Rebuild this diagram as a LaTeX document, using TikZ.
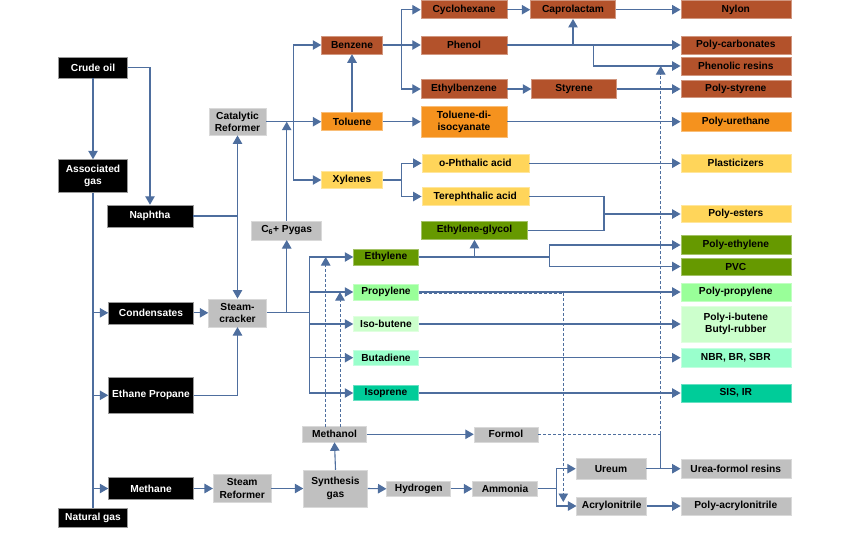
\documentclass[tikz,border=0pt]{standalone}
\usepackage{fontspec}
\setmainfont{Liberation Sans}
\usetikzlibrary{arrows.meta}
\definecolor{lineblue}{HTML}{4E6E9E}
\definecolor{grayc}{HTML}{C0C0C0}
\definecolor{brownc}{HTML}{B3522B}
\definecolor{orangec}{HTML}{F5921E}
\definecolor{yellowc}{HTML}{FFD55A}
\definecolor{dgreenc}{HTML}{669900}
\definecolor{lgreenc}{HTML}{99FF99}
\definecolor{vlgreenc}{HTML}{CCFFCC}
\definecolor{mintc}{HTML}{99FFCC}
\definecolor{tealc}{HTML}{00CC99}
\begin{document}
\begin{tikzpicture}[x=1pt,y=-1pt,
  box/.style={rectangle, inner sep=0pt, align=center, line width=0.5pt,
    font=\fontsize{10.2}{12.6}\selectfont\bfseries},
  wh/.style 2 args={minimum width=#1pt, minimum height=#2pt},
  blk/.style={box, fill=black, text=white, draw=black!40},
  gry/.style={box, fill=grayc, draw=grayc!60!white},
  brn/.style={box, fill=brownc, draw=brownc!60!white},
  org/.style={box, fill=orangec, draw=orangec!60!white},
  yel/.style={box, fill=yellowc, draw=yellowc!60!white},
  dgr/.style={box, fill=dgreenc, draw=dgreenc!60!white},
  lgr/.style={box, fill=lgreenc, draw=lgreenc!60!white},
  vlg/.style={box, fill=vlgreenc, draw=vlgreenc!60!white},
  mnt/.style={box, fill=mintc, draw=mintc!60!white},
  tea/.style={box, fill=tealc, draw=tealc!60!white},
  conn/.style={draw=lineblue, line width=1.1pt},
  arr/.style={conn, -{Triangle[length=8.5pt,width=9.5pt]}},
  dsh/.style={conn, line width=0.9pt, dash pattern=on 3pt off 2pt},
  darr/.style={dsh, -{Triangle[length=8.5pt,width=9.5pt]}}]
\useasboundingbox (0,0) rectangle (850,539);

% black sources
\node[blk, wh={69}{21}] (crude) at (93,67.7) {Crude oil};
\node[blk, wh={69}{33}] (assoc) at (93,176) {Associated\\gas};
\node[blk, wh={86}{22}] (naphtha) at (150,216) {Naphtha};
\node[blk, wh={85}{22}] (cond) at (151,312.8) {Condensates};
\node[blk, wh={85}{36}] (ethprop) at (151,395.3) {Ethane Propane};
\node[blk, wh={85}{22}] (methane) at (151,488.5) {Methane};
\node[blk, wh={69}{19}] (natgas) at (93,517.7) {Natural gas};

% gray
\node[gry, wh={57}{27}] (catref) at (237.5,121.7) {Catalytic\\Reformer};
\node[gry, wh={58}{28}] (steamc) at (237.5,312.8) {Steam-\\cracker};
\node[gry, wh={70}{19}] (pygas) at (286.7,230.3) {C\textsubscript{6}+ Pygas};
\node[gry, wh={64}{15.5}] (methanol) at (334.5,434.3) {Methanol};
\node[gry, wh={58}{28}] (steamref) at (242.2,488.5) {Steam\\Reformer};
\node[gry, wh={64}{37}] (syngas) at (335.5,488.5) {Synthesis\\gas};
\node[gry, wh={64}{15}] (hydrogen) at (418.7,488.8) {Hydrogen};
\node[gry, wh={64.6}{15}] (ammonia) at (505,488.8) {Ammonia};
\node[gry, wh={64}{15}] (formol) at (506,434.3) {Formol};
\node[gry, wh={70}{21}] (ureum) at (611,468.7) {Ureum};
\node[gry, wh={70}{18}] (acrylo) at (611.7,506) {Acrylonitrile};
\node[gry, wh={110}{18.4}] (urea) at (735.8,468.7) {Urea-formol resins};
\node[gry, wh={110}{18}] (polyacr) at (735.8,506) {Poly-acrylonitrile};

% brown
\node[brn, wh={61}{18}] (benzene) at (352,45) {Benzene};
\node[brn, wh={86}{18}] (cyclo) at (464,9.7) {Cyclohexane};
\node[brn, wh={85}{18}] (capro) at (573,9.7) {Caprolactam};
\node[brn, wh={110}{18}] (nylon) at (735.8,9.7) {Nylon};
\node[brn, wh={86}{18}] (phenol) at (464,45) {Phenol};
\node[brn, wh={110}{17.4}] (polycarb) at (735.8,45.3) {Poly-carbonates};
\node[brn, wh={110}{18.3}] (phenres) at (735.8,66) {Phenolic resins};
\node[brn, wh={86}{18.6}] (ethylb) at (464,89) {Ethylbenzene};
\node[brn, wh={85}{18.6}] (styrene) at (574,89) {Styrene};
\node[brn, wh={110}{17.6}] (polysty) at (735.8,88.6) {Poly-styrene};

% orange
\node[org, wh={61}{18}] (toluene) at (352,121.7) {Toluene};
\node[org, wh={86}{31}] (tdi) at (464,121.7) {Toluene-di-\\isocyanate};
\node[org, wh={110}{18.3}] (polyur) at (735.8,121.8) {Poly-urethane};

% yellow
\node[yel, wh={61}{17.4}] (xylenes) at (352,180) {Xylenes};
\node[yel, wh={107}{18.6}] (ophth) at (475.3,163.2) {o-Phthalic acid};
\node[yel, wh={107}{17.6}] (tereph) at (475.3,196.5) {Terephthalic acid};
\node[yel, wh={110}{18}] (plast) at (735.8,163.3) {Plasticizers};
\node[yel, wh={110}{17.4}] (polyest) at (735.8,214) {Poly-esters};

% green family
\node[dgr, wh={65}{16}] (ethylene) at (386,257) {Ethylene};
\node[dgr, wh={106}{18.7}] (eglycol) at (474.5,230.3) {Ethylene-glycol};
\node[dgr, wh={110}{18.6}] (polyeth) at (735.8,245) {Poly-ethylene};
\node[dgr, wh={110}{17.5}] (pvc) at (735.8,266.5) {PVC};
\node[lgr, wh={65}{15.5}] (propylene) at (386,292) {Propylene};
\node[lgr, wh={110}{18}] (polyprop) at (735.8,292) {Poly-propylene};
\node[vlg, wh={65}{14.6}] (isobut) at (386,324) {Iso-butene};
\node[vlg, wh={110}{36}] (polyib) at (735.8,324) {Poly-i-butene\\Butyl-rubber};
\node[mnt, wh={65}{14.7}] (butad) at (386,357.7) {Butadiene};
\node[mnt, wh={110}{18.3}] (nbr) at (735.8,357.7) {NBR, BR, SBR};
\node[tea, wh={65}{14.6}] (isoprene) at (386,393) {Isoprene};
\node[tea, wh={110}{17.7}] (sis) at (735.8,393) {SIS, IR};

% junction coordinates
\coordinate (jn) at (237.5,216);
\coordinate (jr) at (293.7,121.7);
\coordinate (js) at (309.7,312.8);
\coordinate (jp) at (286.7,312.8);
\coordinate (jb) at (401.7,45);
\coordinate (jx) at (401.7,180);
\coordinate (jc) at (573,45);
\coordinate (jh) at (593.7,45);
\coordinate (jt) at (604,196.5);
\coordinate (jg) at (604,230.3);
\coordinate (je) at (474.5,257);
\coordinate (jE) at (549.3,257);
\coordinate (jpp) at (563.3,293.2);
\coordinate (jpa) at (563.3,502);
\coordinate (jm1) at (325.7,426.7);
\coordinate (jm2) at (340,426.7);
\coordinate (jf) at (660.7,434.3);
\coordinate (jfu) at (660.7,66);
\coordinate (jfd) at (660.7,468.7);
\coordinate (ja) at (556.7,488.8);

% crude oil / gas
\draw[arr] (crude.east) -| (naphtha.north);
\draw[arr] (crude.south) -- (assoc.north);
\draw[conn] (assoc.south) -- (natgas.north);
\draw[arr] (assoc.south |- cond) -- (cond.west);
\draw[arr] (assoc.south |- ethprop) -- (ethprop.west);
\draw[arr] (assoc.south |- methane) -- (methane.west);

% naphtha to reformer and cracker
\draw[conn] (naphtha.east) -- (jn);
\draw[arr] (jn) -- (catref.south);
\draw[arr] (jn) -- (steamc.north);
\draw[arr] (cond.east) -- (steamc.west);
\draw[arr] (ethprop.east) -| (steamc.south);

% reformer outputs
\draw[arr] (catref.east) -- (toluene.west);
\draw[arr] (jr) |- (benzene.west);
\draw[arr] (jr) |- (xylenes.west);
\draw[arr] (pygas.north) -- (pygas.north |- toluene);
\draw[arr] (toluene.north) -- (benzene.south);

% steam cracker outputs
\draw[conn] (steamc.east) -- (js);
\draw[arr] (jp) -- (pygas.south);
\draw[arr] (js) |- (ethylene.west);
\draw[arr] (js) |- (propylene.west);
\draw[arr] (js) |- (isobut.west);
\draw[arr] (js) |- (butad.west);
\draw[arr] (js) |- (isoprene.west);

% benzene chain
\draw[conn] (benzene.east) -- (jb);
\draw[arr] (jb) |- (cyclo.west);
\draw[arr] (jb) -- (phenol.west);
\draw[arr] (jb) |- (ethylb.west);
\draw[arr] (cyclo.east) -- (capro.west);
\draw[arr] (capro.east) -- (nylon.west);
\draw[arr] (phenol.east) -- (polycarb.west |- phenol);
\draw[arr] (jc) -- (capro.south);
\draw[arr] (jh) |- (phenres.west);
\draw[arr] (ethylb.east) -- (styrene.west);
\draw[arr] (styrene.east) -- (polysty.west |- styrene);

% toluene chain
\draw[arr] (toluene.east) -- (tdi.west);
\draw[arr] (tdi.east) -- (polyur.west |- tdi);

% xylenes chain
\draw[conn] (xylenes.east) -- (jx);
\draw[arr] (jx) |- (ophth.west);
\draw[arr] (jx) |- (tereph.west);
\draw[arr] (ophth.east) -- (plast.west |- ophth);
\draw[conn] (tereph.east) -- (jt) -- (jg) -- (eglycol.east);
\draw[arr] (jt |- polyest) -- (polyest.west);

% ethylene chain
\draw[conn] (ethylene.east) -- (jE);
\draw[arr] (je) -- (eglycol.south);
\draw[arr] (jE) |- (polyeth.west);
\draw[arr] (jE) |- (pvc.west);

% C3-C5
\draw[arr] (propylene.east) -- (polyprop.west);
\draw[dsh] (propylene.east |- jpp) -- (jpp);
\draw[darr] (jpp) -- (jpa);
\draw[arr] (isobut.east) -- (polyib.west);
\draw[arr] (butad.east) -- (nbr.west);
\draw[arr] (isoprene.east) -- (sis.west);

% methanol
\draw[darr] (jm1) -- (jm1 |- ethylene);
\draw[darr] (jm2) -- (jm2 |- propylene);
\draw[arr] (methanol.east) -- (formol.west);
\draw[dsh] (formol.east) -- (jf);
\draw[darr] (jf) -- (jfu);
\draw[conn] (jf) -- (jfd);

% methane chain
\draw[arr] (methane.east) -- (steamref.west);
\draw[arr] (steamref.east) -- (syngas.west);
\draw[arr] (syngas.north) -- (methanol.south);
\draw[arr] (syngas.east) -- (hydrogen.west);
\draw[arr] (hydrogen.east) -- (ammonia.west);
\draw[conn] (ammonia.east) -- (ja);
\draw[arr] (ja) |- (ureum.west);
\draw[arr] (ja) |- (acrylo.west);
\draw[arr] (ureum.east) -- (urea.west);
\draw[arr] (acrylo.east) -- (polyacr.west);
\end{tikzpicture}
\end{document}
